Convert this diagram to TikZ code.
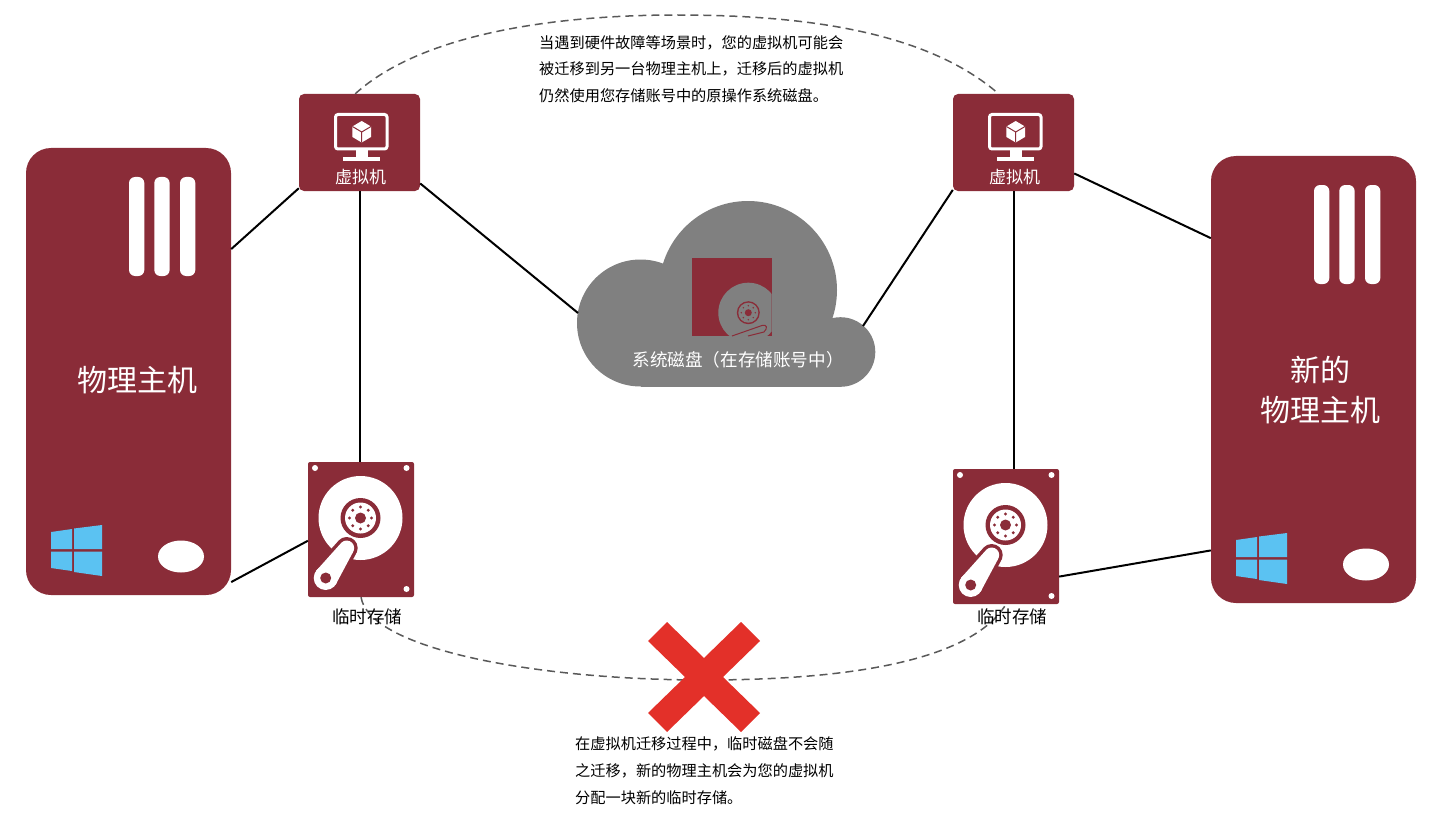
\documentclass[tikz,border=0pt]{standalone}
\usepackage{fontspec}
\newfontfamily\cjk{Noto Sans CJK SC}
\definecolor{hostred}{HTML}{8A2C38}
\definecolor{cloudgray}{HTML}{808080}
\definecolor{winblue}{HTML}{5BC2F2}
\definecolor{crossred}{HTML}{E33029}
\newcommand{\cjksize}[1]{\cjk\fontsize{#1}{#1}\selectfont}
\tikzset{
  link/.style={black,line width=2pt},
  dashlink/.style={black!65,line width=1.5pt,dash pattern=on 8pt off 5pt},
  para/.style={anchor=west,inner sep=0pt,font=\cjksize{15.2}},
  hostname/.style={white,inner sep=0pt,font=\cjksize{30}},
  caption/.style={inner sep=0pt,font=\cjksize{17.5}},
  physhost/.pic={
    \node[fill=hostred,rounded corners=25pt,minimum width=205pt,minimum height=447pt,inner sep=0pt] (-body) at (102.5,223.5) {};
    \foreach \i in {103,128.3,154}
      \fill[white,rounded corners=6pt] (\i,29) rectangle ++(15.3,99);
    \fill[winblue] (25,384) -- (46,381) -- (46,401) -- (25,401) -- cycle;
    \fill[winblue] (48,380.5) -- (76,377) -- (76,401) -- (48,401) -- cycle;
    \fill[winblue] (25,403.5) -- (46,403.5) -- (46,423) -- (25,420) -- cycle;
    \fill[winblue] (48,403.5) -- (76,403.5) -- (76,428) -- (48,424) -- cycle;
    \fill[white] (155,408.5) ellipse [x radius=23,y radius=16];
  },
  vmbox/.pic={
    \node[fill=hostred,rounded corners=5pt,minimum width=121pt,minimum height=97pt,inner sep=0pt] (-body) at (60.5,48.5) {};
    \draw[white,line width=3pt,rounded corners=2.5pt] (36.5,20.5) rectangle (88,55);
    \fill[white] (56.5,56) rectangle (68.5,64);
    \fill[white] (44,63.5) rectangle (81,67);
    \fill[white] (62.7,27) -- (72,32.5) -- (72,43) -- (62.7,48.5) -- (53.4,43) -- (53.4,32.5) -- cycle;
    \draw[hostred,line width=1pt] (53.4,32.5) -- (62.7,38) -- (72,32.5) (62.7,38) -- (62.7,48.5);
    \node[white,inner sep=0pt,font=\cjksize{17}] (-name) at (61.5,83) {虚拟机};
  },
  hddbox/.pic={
    \node[fill=hostred,rounded corners=2pt,minimum width=106pt,minimum height=135pt,inner sep=0pt] (-body) at (53,67.5) {};
    \foreach \a/\b in {7/6,98.5/6,98.5/127}
      \fill[white] (\a,\b) circle [radius=3];
    \fill[white] (52.5,56) circle [radius=42];
    \fill[hostred] (52.5,56) circle [radius=20];
    \fill[white] (52.5,56) circle [radius=15.5];
    \fill[hostred] (52.5,56) circle [radius=5.5];
    \foreach \t in {0,45,...,315}
      \fill[hostred] (52.5,56) ++(\t:11) circle [radius=1.6];
    % arm, with a halo of the box colour
    \fill[hostred] (38.7,86) circle [radius=11];
    \fill[hostred] (17.7,116) circle [radius=15.5];
    \fill[hostred] (47.7,92.3) -- (29.7,79.7) -- (5,107.1) -- (30.4,124.9) -- cycle;
    \fill[white] (38.7,86) circle [radius=7.5];
    \fill[white] (17.7,116) circle [radius=12];
    \fill[white] (44.9,90.3) -- (32.5,81.7) -- (7.9,109.1) -- (27.5,122.9) -- cycle;
    \fill[hostred] (17.7,116) circle [radius=5.5];
  }
}
\begin{document}
\begin{tikzpicture}[x=1pt,y=-1pt]
\useasboundingbox (0,0) rectangle (1438,824);

\pic (hostl) at (26,148) {physhost};
\pic (hostr) at (1211,156) {physhost};
\pic (vml) at (299,94) {vmbox};
\pic (vmr) at (953,94) {vmbox};
\pic (hddl) at (308,462) {hddbox};
\pic (hddr) at (953,469) {hddbox};

\node[hostname] (hostltext) at (137,380) {物理主机};
\node[hostname] (hostrnew) at (1320,370) {新的};
\node[hostname] (hostrtext) at (1320,410) {物理主机};

% cloud
\fill[cloudgray] (748,290) circle [radius=89];
\fill[cloudgray] (640.5,323) circle [radius=63.5];
\fill[cloudgray] (840.5,352) circle [radius=34.8];
\fill[cloudgray] (640.5,340) rectangle (840.5,386.5);
\fill[hostred] (692,258) rectangle (771.5,336);
\begin{scope}
\clip (692,258) rectangle (771.5,336);
\fill[cloudgray] (748.3,312.7) circle [radius=30];
\end{scope}
\fill[hostred] (748.3,312.7) circle [radius=11.5];
\fill[cloudgray] (748.3,312.7) circle [radius=10];
\fill[hostred] (748.3,312.7) circle [radius=3.5];
\foreach \t in {0,45,...,315}
  \fill[hostred] (748.3,312.7) ++(\t:7) circle [radius=0.8];
\draw[hostred,line width=1pt] (732,336) -- (762,325.5) .. controls (767,324) and (768,328) .. (764,332) -- (748,336);
\node[white,inner sep=0pt,font=\cjksize{17.6}] (disktext) at (738,360) {系统磁盘（在存储账号中）};
\coordinate (cloudw) at (578,313);
\coordinate (cloude) at (863,326);

% connectors
\draw[link] (hostl-body.50.1) -- (vml-body.217.4);
\draw[link] (hddl-body.192.2) -- (hostl-body.296.4);
\draw[link] (vml-body.south) -- (vml-body.south |- hddl-body.north);
\draw[link] (vml-body.-34.4) -- (cloudw);
\draw[link] (vmr-body.218.1) -- (cloude);
\draw[link] (vmr-body.-27.5) -- (hostr-body.126.9);
\draw[link] (vmr-body.271.8) -- (vmr-body.271.8 |- hddr-body.north);
\draw[link] (hddr-body.-37.4) -- (hostr-body.239.1);

% dashed arcs
\draw[dashlink] (vml-body.95) .. controls (420,35) and (550,15) .. (677,15) .. controls (800,15) and (925,30) .. (vmr-body.107.7);
\draw[dashlink] (hddl-body.south) .. controls (370,650) and (540,680) .. (704,680) .. controls (800,680) and (965,672) .. (hddr-body.south);

\node[caption] (templ) at (367,617) {临时存储};
\node[caption] (tempr) at (1012,617) {临时存储};

% cross
\fill[crossred] (667,622) -- (704,658) -- (741,622) -- (760,641) -- (723,677) -- (760,713) -- (741,732) -- (704,696) -- (667,732) -- (648,713) -- (685,677) -- (648,641) -- cycle;

\node[para] (topa) at (539,43) {当遇到硬件故障等场景时，您的虚拟机可能会};
\node[para] (topb) at (539,69) {被迁移到另一台物理主机上，迁移后的虚拟机};
\node[para] (topc) at (539,96) {仍然使用您存储账号中的原操作系统磁盘。};
\node[para] (lowa) at (575,744) {在虚拟机迁移过程中，临时磁盘不会随};
\node[para] (lowb) at (575,771) {之迁移，新的物理主机会为您的虚拟机};
\node[para] (lowc) at (575,798) {分配一块新的临时存储。};
\end{tikzpicture}
\end{document}
